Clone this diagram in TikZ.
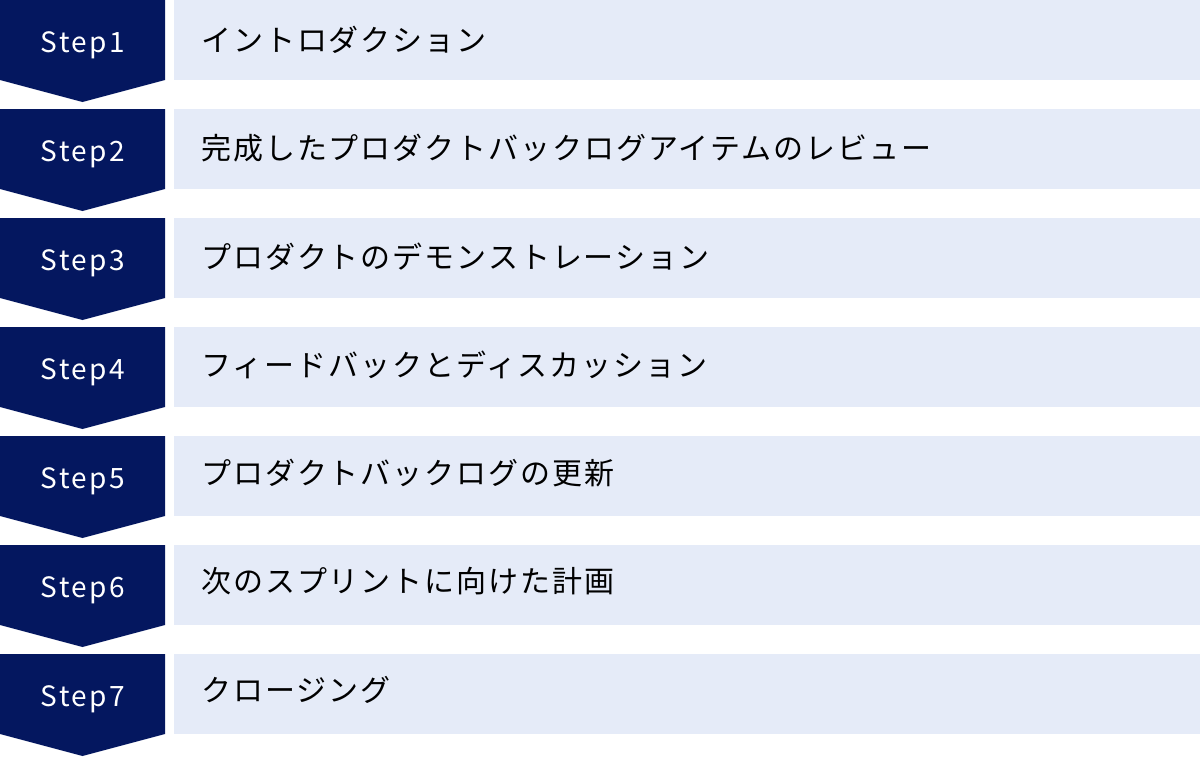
\documentclass[tikz,border=0pt]{standalone}
\usepackage{fontspec}
\setmainfont{Noto Sans CJK JP}
\definecolor{navy}{HTML}{04175F}
\definecolor{paleblue}{HTML}{E5EBF8}
\begin{document}
\begin{tikzpicture}[x=1pt,y=-1pt,
  stepbox/.style={text=white,anchor=base,inner sep=0pt,
    font=\fontsize{28}{28}\selectfont\addfontfeature{LetterSpace=9}},
  itemtext/.style={anchor=west,inner sep=0pt,text height=26.4pt,text depth=3.6pt,
    font=\fontsize{30}{30}\selectfont\addfontfeature{LetterSpace=6.5}}]
\useasboundingbox (0,0) rectangle (1200,756);
\foreach \i/\txt in {1/イントロダクション,
    2/完成したプロダクトバックログアイテムのレビュー,
    3/プロダクトのデモンストレーション,
    4/フィードバックとディスカッション,
    5/プロダクトバックログの更新,
    6/次のスプリントに向けた計画,
    7/クロージング}{
  \pgfmathsetmacro{\ytop}{(\i-1)*109}
  \pgfmathsetmacro{\ytext}{40+(\i-1)*108.3}
  % step arrow and text band
  \fill[navy] (0,\ytop) -- ++(165,0) -- ++(0,80) -- ++(-82.5,22) -- ++(-82.5,-22) -- cycle;
  \fill[paleblue] (174,\ytop) rectangle ++(1026,80);
  \node[stepbox] (step\i) at (83,\ytop+52) {Step\i};
  \node[itemtext] (item\i) at (201,\ytext) {\txt};
}
\end{tikzpicture}
\end{document}
